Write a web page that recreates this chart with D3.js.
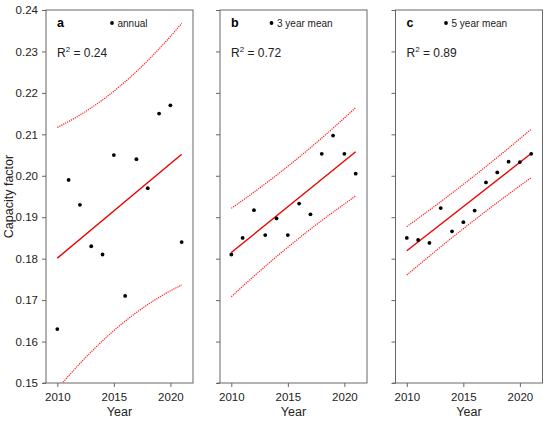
<!DOCTYPE html>
<html>
<head>
<meta charset="utf-8">
<script src="https://cdn.jsdelivr.net/npm/d3@7"></script>
<style>
  body { margin: 0; background: #fff; }
  svg { display: block; font-family: "Liberation Sans", Arial, sans-serif; }
</style>
</head>
<body>
<svg id="chart" width="550" height="422"></svg>
<script>
// ---- data ----
const years = [2010, 2011, 2012, 2013, 2014, 2015, 2016, 2017, 2018, 2019, 2020, 2021];
const annual = [0.163, 0.199, 0.193, 0.183, 0.181, 0.205, 0.171, 0.204, 0.197, 0.215, 0.217, 0.184];
const mean3 = [0.181, 0.185, 0.1917, 0.1857, 0.1897, 0.1857, 0.1933, 0.1907, 0.2053, 0.2097, 0.2053, 0.2005];
const mean5 = [0.185, 0.1845, 0.1838, 0.1922, 0.1866, 0.1888, 0.1916, 0.1984, 0.2008, 0.2034, 0.2033, 0.2053];
const panelLetters = ["a", "b", "c"];
const seriesNames = ["annual", "3 year mean", "5 year mean"];
const r2Labels = ["0.24", "0.72", "0.89"];
const yTicks = [0.15, 0.16, 0.17, 0.18, 0.19, 0.20, 0.21, 0.22, 0.23, 0.24];
const xTicks = [2010, 2015, 2020];
const seriesValues = [annual, mean3, mean5];

// ---- layout ----
const svg = d3.select("#chart");
const plotTop = 10, plotBottom = 383, pw = 147;
const lefts = [46, 220, 395.5];
const legendDx = [66, 51.5, 50.5];
const tval = 1.812; // 90% prediction interval, df = 10
const textCol = "#222";
const frameCol = "#666";

const y = d3.scaleLinear().domain([0.15, 0.24]).range([plotBottom, plotTop]);

function fit(xs, ys) {
  const n = xs.length;
  const mx = d3.mean(xs), my = d3.mean(ys);
  let sxx = 0, sxy = 0;
  xs.forEach((x, i) => { sxx += (x - mx) ** 2; sxy += (x - mx) * (ys[i] - my); });
  const b = sxy / sxx, a = my - b * mx;
  let sse = 0;
  xs.forEach((x, i) => { sse += (ys[i] - (a + b * x)) ** 2; });
  const s = Math.sqrt(sse / (n - 2));
  return { a, b, s, n, mx, sxx };
}

seriesValues.forEach((vals, k) => {
  const L = lefts[k];
  const x = d3.scaleLinear().domain([2009, 2022]).range([L, L + pw]);
  const g = svg.append("g");

  const clipId = "clip" + k;
  svg.append("clipPath").attr("id", clipId)
    .append("rect").attr("x", L).attr("y", plotTop).attr("width", pw).attr("height", plotBottom - plotTop);

  // axes
  const ya = d3.axisLeft(y).tickValues(yTicks).tickSize(4).tickPadding(4)
    .tickFormat(k === 0 ? d3.format(".2f") : () => "");
  const yg = g.append("g").attr("transform", `translate(${L},0)`).call(ya);
  const xa = d3.axisBottom(x).tickValues(xTicks).tickSize(4).tickPadding(6).tickFormat(d3.format("d"));
  const xg = g.append("g").attr("transform", `translate(0,${plotBottom})`).call(xa);
  [yg, xg].forEach(ax => {
    ax.select(".domain").remove();
    ax.selectAll(".tick line").attr("stroke", frameCol);
    ax.selectAll(".tick text").attr("fill", textCol).style("font-size", "11.5px")
      .style("font-family", "'Liberation Sans', Arial, sans-serif");
  });
  // bottom axis line extends slightly past the left spine
  g.append("line").attr("x1", L - 3).attr("x2", L).attr("y1", plotBottom).attr("y2", plotBottom)
    .attr("stroke", frameCol);

  // frame
  g.append("rect").attr("x", L).attr("y", plotTop).attr("width", pw).attr("height", plotBottom - plotTop)
    .attr("fill", "none").attr("stroke", frameCol).attr("stroke-width", 1);

  // regression & prediction band
  const f = fit(years, vals);
  const xs = d3.range(2010, 2021.0001, 0.1);
  const pred = xv => f.a + f.b * xv;
  const half = xv => tval * f.s * Math.sqrt(1 + 1 / f.n + (xv - f.mx) ** 2 / f.sxx);
  const line = d3.line().x(d => x(d[0])).y(d => y(d[1]));
  const cg = g.append("g").attr("clip-path", `url(#${clipId})`);
  cg.append("path").attr("d", line(xs.map(v => [v, pred(v) + half(v)])))
    .attr("fill", "none").attr("stroke", "#ff1a1a").attr("stroke-width", 1.2).attr("stroke-dasharray", "1.2,1");
  cg.append("path").attr("d", line(xs.map(v => [v, pred(v) - half(v)])))
    .attr("fill", "none").attr("stroke", "#ff1a1a").attr("stroke-width", 1.2).attr("stroke-dasharray", "1.2,1");
  cg.append("path").attr("d", line([[2010, pred(2010)], [2021, pred(2021)]]))
    .attr("fill", "none").attr("stroke", "#ee0000").attr("stroke-width", 1.4);

  // points
  g.selectAll("circle.pt").data(years).join("circle").attr("class", "pt")
    .attr("cx", d => x(d)).attr("cy", (d, i) => y(vals[i])).attr("r", 1.9).attr("fill", "#000");

  // panel letter
  g.append("text").attr("x", L + 11).attr("y", 27).text(panelLetters[k])
    .attr("fill", "#000").style("font-weight", "bold").style("font-size", "12.5px");

  // legend
  g.append("circle").attr("cx", L + legendDx[k]).attr("cy", 23).attr("r", 1.9).attr("fill", "#000");
  g.append("text").attr("x", L + legendDx[k] + 5.5).attr("y", 27).text(seriesNames[k])
    .attr("fill", textCol).style("font-size", "10px");

  // R^2
  const rt = g.append("text").attr("x", L + 11).attr("y", 57).attr("fill", textCol).style("font-size", "12px");
  rt.append("tspan").text("R");
  rt.append("tspan").attr("dy", -5).style("font-size", "8px").text("2");
  rt.append("tspan").attr("dy", 5).text(" = " + r2Labels[k]);

  // x axis title
  g.append("text").attr("x", L + pw / 2).attr("y", 416).attr("text-anchor", "middle")
    .attr("fill", textCol).style("font-size", "12.5px").text("Year");
});

// y axis title
svg.append("text").attr("transform", `translate(13,${(plotTop + plotBottom) / 2}) rotate(-90)`)
  .attr("text-anchor", "middle").attr("fill", textCol).style("font-size", "12.5px").text("Capacity factor");
</script>
</body>
</html>
